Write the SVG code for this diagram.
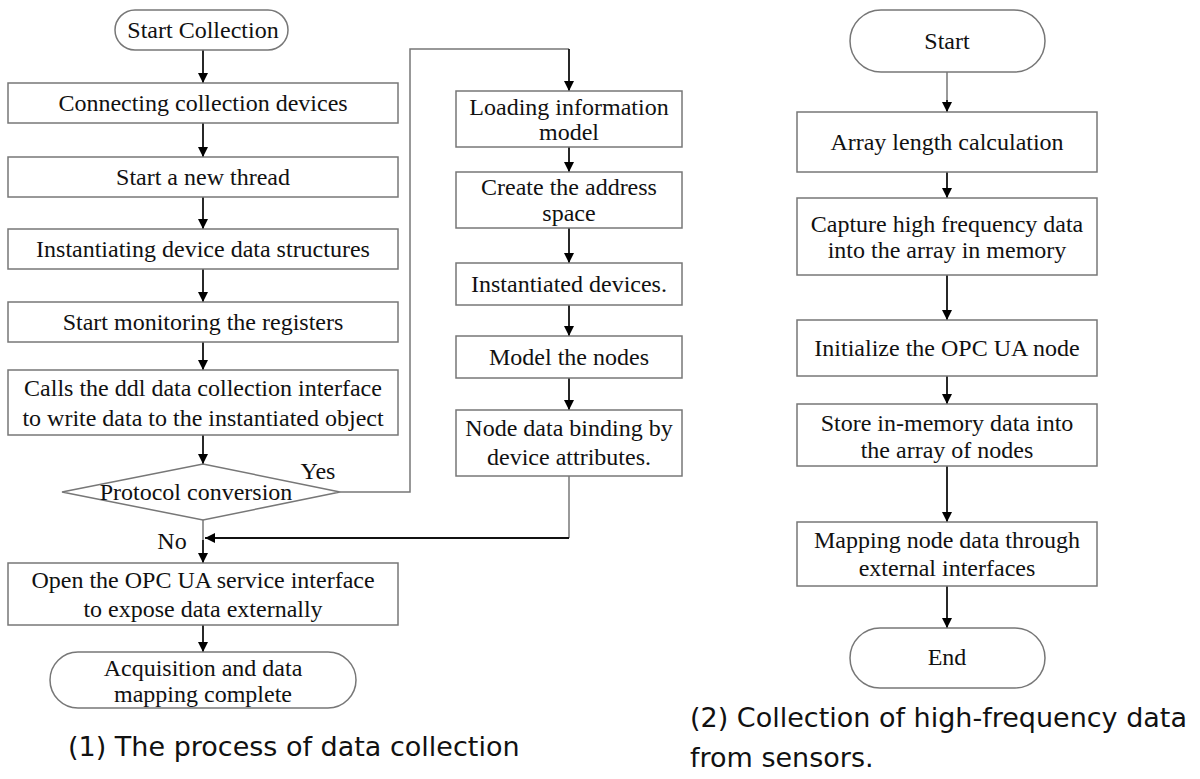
<svg xmlns="http://www.w3.org/2000/svg" width="1200" height="779" viewBox="0 0 1200 779">
<defs>
<marker id="a" viewBox="0 0 10 10" refX="10" refY="5" markerWidth="10" markerHeight="10" markerUnits="userSpaceOnUse" orient="auto"><path d="M0,0 L10,5 L0,10 z" fill="#000"/></marker>
<style>
.n{fill:#fff;stroke:#777;stroke-width:1.5}
.t{font-family:"Liberation Serif",serif;font-size:24px;fill:#111;text-anchor:middle}
.c{fill:none;stroke:#111;stroke-width:1.8;marker-end:url(#a)}
.l{fill:none;stroke:#777;stroke-width:1.5}
.cap{font-family:"DejaVu Sans",sans-serif;font-size:27px;fill:#111}
</style>
</defs>
<rect width="1200" height="779" fill="#fff"/>
<g id="connectors">
<path class="c" d="M203,50V83"/><path class="c" d="M203,123V157"/><path class="c" d="M203,197V229"/><path class="c" d="M203,269V302"/><path class="c" d="M203,342V370"/><path class="c" d="M203,435V464"/>
<path class="l" d="M340,492H410V49H569"/><path class="c" d="M569,49V91"/>
<path class="c" d="M569,133V172"/><path class="c" d="M569,215V263"/><path class="c" d="M569,305V336"/><path class="c" d="M569,378V410"/>
<path class="l" d="M569,476V538"/><path class="c" d="M569,538H205"/>
<path class="l" d="M203,520V540"/><path class="c" d="M203,540V563"/>
<path class="c" d="M203,625V652"/>
<path class="l" d="M947,72V100"/><path class="c" d="M947,100V112"/>
<path class="c" d="M947,172V198"/><path class="c" d="M947,275V320"/><path class="c" d="M947,376V404"/><path class="c" d="M947,466V522"/><path class="c" d="M947,586V628"/>
</g>
<g id="start1"><rect class="n" x="115" y="10" width="173" height="40" rx="20"/><text class="t" x="203" y="38">Start Collection</text></g>
<g id="b1"><rect class="n" x="8" y="83" width="390" height="40"/><text class="t" x="203" y="111">Connecting collection devices</text></g>
<g id="b2"><rect class="n" x="8" y="157" width="390" height="40"/><text class="t" x="203" y="185">Start a new thread</text></g>
<g id="b3"><rect class="n" x="8" y="229" width="390" height="40"/><text class="t" x="203" y="257">Instantiating device data structures</text></g>
<g id="b4"><rect class="n" x="8" y="302" width="390" height="40"/><text class="t" x="203" y="330">Start monitoring the registers</text></g>
<g id="b5"><rect class="n" x="8" y="370" width="390" height="65"/><text class="t" x="203" y="396">Calls the ddl data collection interface</text><text class="t" x="203" y="426">to write data to the instantiated object</text></g>
<g id="d1"><path class="n" d="M62,492L203,464L340,492L203,520z"/><text class="t" x="196" y="500">Protocol conversion</text><text class="t" x="318" y="479">Yes</text><text class="t" x="172" y="549">No</text></g>
<g id="b6"><rect class="n" x="8" y="563" width="390" height="62"/><text class="t" x="203" y="588">Open the OPC UA service interface</text><text class="t" x="203" y="617">to expose data externally</text></g>
<g id="end1"><rect class="n" x="50" y="652" width="306" height="56" rx="28"/><text class="t" x="203" y="676">Acquisition and data</text><text class="t" x="203" y="702">mapping complete</text></g>
<g id="m1"><rect class="n" x="456" y="91" width="226" height="56"/><text class="t" x="569" y="115">Loading information</text><text class="t" x="569" y="140">model</text></g>
<g id="m2"><rect class="n" x="456" y="172" width="226" height="56"/><text class="t" x="569" y="195">Create the address</text><text class="t" x="569" y="221">space</text></g>
<g id="m3"><rect class="n" x="456" y="263" width="226" height="42"/><text class="t" x="569" y="292">Instantiated devices.</text></g>
<g id="m4"><rect class="n" x="456" y="336" width="226" height="42"/><text class="t" x="569" y="365">Model the nodes</text></g>
<g id="m5"><rect class="n" x="456" y="410" width="226" height="66"/><text class="t" x="569" y="436">Node data binding by</text><text class="t" x="569" y="465">device attributes.</text></g>
<g id="s2"><rect class="n" x="850" y="10" width="195" height="62" rx="31"/><text class="t" x="947" y="49">Start</text></g>
<g id="r1"><rect class="n" x="797" y="112" width="300" height="60"/><text class="t" x="947" y="150">Array length calculation</text></g>
<g id="r2"><rect class="n" x="797" y="198" width="300" height="77"/><text class="t" x="947" y="232">Capture high frequency data</text><text class="t" x="947" y="258">into the array in memory</text></g>
<g id="r3"><rect class="n" x="797" y="320" width="300" height="56"/><text class="t" x="947" y="356">Initialize the OPC UA node</text></g>
<g id="r4"><rect class="n" x="797" y="404" width="300" height="62"/><text class="t" x="947" y="431">Store in-memory data into</text><text class="t" x="947" y="458">the array of nodes</text></g>
<g id="r5"><rect class="n" x="797" y="522" width="300" height="64"/><text class="t" x="947" y="548">Mapping node data through</text><text class="t" x="947" y="576">external interfaces</text></g>
<g id="e2"><rect class="n" x="850" y="628" width="195" height="60" rx="30"/><text class="t" x="947" y="665">End</text></g>
<text class="cap" x="68" y="756">(1) The process of data collection</text>
<text class="cap" x="690" y="727">(2) Collection of high-frequency data</text>
<text class="cap" x="690" y="767">from sensors.</text>
</svg>
